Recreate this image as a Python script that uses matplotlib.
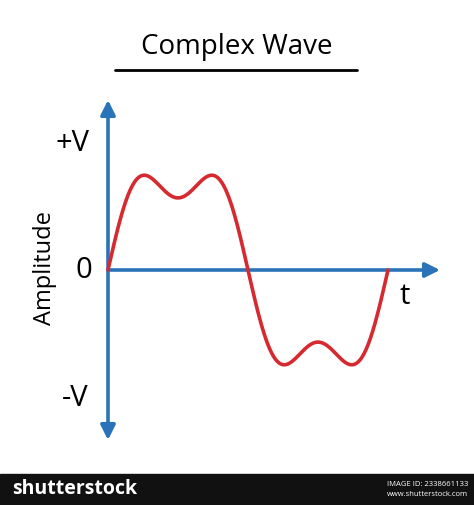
import numpy as np
import matplotlib
matplotlib.use("Agg")
import matplotlib.pyplot as plt
from matplotlib.patches import Rectangle

# data: harmonic make-up of the complex wave (one period)
harmonic_orders = [1, 3]
harmonic_amplitudes = [1.0, 0.3]
axis_labels = ["+V", "0", "-V"]
title = "Complex Wave"

W, H = 474, 505
fig = plt.figure(figsize=(W/100, H/100), dpi=100)
ax = fig.add_axes([0, 0, 1, 1])
px_t, px_a = 280.0, 103.0
x0, y0 = 108, 270
ax.set_xlim(-x0/px_t, (W-x0)/px_t)
ax.set_ylim(-(H-y0)/px_a, y0/px_a)
ax.axis("off")

blue = "#2b73b9"
red = "#d62a30"
font = "Open Sans"

t = np.linspace(0, 1, 600)
y = sum(a*np.sin(2*np.pi*n*t) for n, a in zip(harmonic_orders, harmonic_amplitudes))
ax.plot(t, y, color=red, lw=2.6, solid_capstyle="round", zorder=3)

ax.annotate("", xy=(0, (y0-100)/px_a), xytext=(0, (y0-440)/px_a),
            arrowprops=dict(arrowstyle="<|-|>", color=blue, lw=2.6, mutation_scale=22, shrinkA=0, shrinkB=0), zorder=2)
ax.annotate("", xy=((440-x0)/px_t, 0), xytext=(0, 0),
            arrowprops=dict(arrowstyle="-|>", color=blue, lw=2.6, mutation_scale=22, shrinkA=0, shrinkB=0), zorder=2)

def P(px, py):
    return ((px-x0)/px_t, (y0-py)/px_a)

ax.text(*P(72, 143), axis_labels[0], fontsize=21, family=font, ha="center", va="center")
ax.text(*P(84, 270), axis_labels[1], fontsize=21, family=font, ha="center", va="center")
ax.text(*P(75, 398), axis_labels[2], fontsize=21, family=font, ha="center", va="center")
ax.text(*P(405, 297), "t", fontsize=21, family=font, ha="center", va="center")
ax.text(*P(45, 268), "Amplitude", fontsize=17, family=font, ha="center", va="center", rotation=90)
ax.text(*P(237, 47), title, fontsize=20, family=font, ha="center", va="center")
ax.plot([P(115, 70)[0], P(357, 70)[0]], [P(115, 70)[1]]*2, color="black", lw=2, solid_capstyle="round")

# bottom bar
bl = P(0, 505); tr = P(474, 474)
ax.add_patch(Rectangle(bl, tr[0]-bl[0], tr[1]-bl[1], color="#111111", zorder=5))
ax.text(*P(12, 489), "shutterstock", color="white", fontsize=14, family=font, weight="bold", ha="left", va="center", zorder=6)
ax.text(*P(468, 484), "IMAGE ID: 2338661133", color="white", fontsize=5.5, family=font, ha="right", va="center", zorder=6)
ax.text(*P(468, 495), "www.shutterstock.com", color="white", fontsize=5.5, family=font, ha="right", va="center", zorder=6)

fig.savefig("out.png", dpi=100, facecolor="white")
